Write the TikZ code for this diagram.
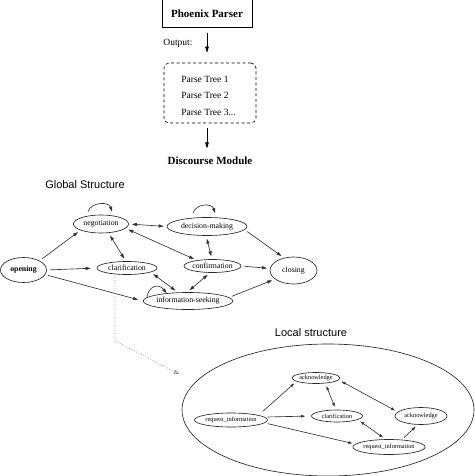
\documentclass[tikz,border=0pt]{standalone}
\usepackage{fontspec}
\setmainfont{Liberation Serif}
\newfontfamily\arialfont{Liberation Sans}
\usetikzlibrary{arrows.meta,shapes.geometric}
\begin{document}
\begin{tikzpicture}[x=1pt,y=-1pt,
  line width=0.65pt,
  gn/.style={ellipse, draw=black!85, inner sep=0pt, font=\fontsize{7.8}{9}\selectfont},
  ln/.style={ellipse, draw=black!85, inner sep=0pt, font=\fontsize{6.3}{7}\selectfont},
  ga/.style={draw=black!80, -{Triangle[length=5pt,width=3.2pt]}, shorten >=3pt, shorten <=3pt},
  gb/.style={draw=black!80, {Triangle[length=5pt,width=3.2pt]}-{Triangle[length=5pt,width=3.2pt]}, shorten >=3pt, shorten <=3pt},
  la/.style={draw=black!80, -{Triangle[length=4pt,width=2.6pt]}, shorten >=3pt, shorten <=3pt},
  lb/.style={draw=black!80, {Triangle[length=4pt,width=2.6pt]}-{Triangle[length=4pt,width=2.6pt]}, shorten >=3pt, shorten <=3pt},
  ta/.style={-{Triangle[length=6pt,width=3.6pt]}},
  txt/.style={font=\fontsize{9.5}{11}\selectfont},
  ttl/.style={font=\arialfont\fontsize{11}{13}\selectfont}
]
\useasboundingbox (0,0) rectangle (474,476);

% top pipeline
\node[draw, minimum width=90pt, minimum height=34pt, anchor=south, inner sep=0pt,
  label={[font=\bfseries\fontsize{11}{13}\selectfont, yshift=-3.5pt]center:Phoenix Parser}] (parser) at (207,27.5) {};
\node[txt] (outlbl) at (178,43) {Output:};
\node[draw, dashed, dash pattern=on 3pt off 2.5pt, rounded corners=5pt, minimum width=92pt, minimum height=60pt,
  inner sep=0pt,
  label={[align=left, font=\fontsize{9.5}{16.5}\selectfont, yshift=-2.5pt, xshift=-1.5pt]center:Parse Tree 1\\Parse Tree 2\\Parse Tree 3...}] (trees) at (210,93) {};
\node[font=\bfseries\fontsize{11}{13}\selectfont] (dm) at (210,161) {Discourse Module};
\draw[ta, shorten <=5.5pt, shorten >=10pt] (parser.south) -- (parser.south |- trees.north);
\draw[ta, shorten <=5pt, shorten >=5pt] (parser.south |- trees.south) -- (parser.south |- dm.north);

% global structure
\node[ttl] (gtitle) at (85,185) {Global Structure};
\node[gn, minimum width=46pt, minimum height=25pt, font=\bfseries\fontsize{7.8}{9}\selectfont] (opening) at (23.5,270) {opening};
\node[gn, minimum width=55pt, minimum height=18pt] (negotiation) at (101,224) {negotiation};
\node[gn, minimum width=80pt, minimum height=18pt] (decision) at (207,226.5) {decision-making};
\node[gn, minimum width=60pt, minimum height=13pt] (clarification) at (127,268) {clarification};
\node[gn, minimum width=55pt, minimum height=13pt] (confirmation) at (212.5,266) {confirmation};
\node[gn, minimum width=47pt, minimum height=27pt] (closing) at (293.5,270.5) {closing};
\node[gn, minimum width=87pt, minimum height=17pt] (info) at (188,301) {information-seeking};

\draw[ga] (opening.30) -- (negotiation.197);
\draw[ga, shorten >=6pt] (opening.east) -- (clarification.west);
\draw[ga, shorten >=5pt] (opening.-12) -- (info.180);
\draw[gb] (negotiation.east) -- (decision.west);
\draw[gb] (negotiation.-50) -- (clarification.100);
\draw[gb] (negotiation.-10) -- (confirmation.160);
\draw[gb] (decision.-95) -- (confirmation.95);
\draw[ga] (decision.-5) -- (closing.127);
\draw[ga] (confirmation.east) -- (closing.175);
\draw[gb] (clarification.-10) -- (info.140);
\draw[gb] (confirmation.-110) -- (info.95);
\draw[ga] (info.5) -- (closing.205);
% self loops
\draw[ga, shorten <=0pt, shorten >=0pt] ([shift={(-13,-3)}]negotiation.north) .. controls +(3,-10) and +(-3,-10) .. ([shift={(11,-3)}]negotiation.north);
\draw[ga, shorten <=0pt, shorten >=0pt] ([shift={(-14,-4)}]decision.north) .. controls +(3,-10) and +(-3,-10) .. ([shift={(8,-4)}]decision.north);
\draw[ga, shorten <=0pt, shorten >=0pt] (info.175) .. controls +(2,-12) and +(-8,-10) .. (info.160);

% local structure
\node[ttl] (ltitle) at (311,333) {Local structure};
\node[ellipse, draw=black!85, minimum width=292pt, minimum height=132pt, inner sep=0pt] (localbox) at (328,410) {};
\node[ln, minimum width=48pt, minimum height=11pt] (ackT) at (316,378) {acknowledge};
\node[ln, minimum width=51pt, minimum height=12pt] (clarL) at (337,416) {clarification};
\node[ln, minimum width=52pt, minimum height=17pt] (ackR) at (421,416) {acknowledge};
\node[ln, minimum width=73pt, minimum height=14pt] (reqL) at (231,420) {request\_information};
\node[ln, minimum width=72pt, minimum height=15pt] (reqB) at (389,447) {request\_information};

\draw[la, shorten <=6pt] (reqL.10) -- (ackT.190);
\draw[la, shorten >=6pt] (reqL.5) -- (clarL.west);
\draw[la] (reqL.-5) -- (reqB.175);
\draw[lb] (ackT.-30) -- (clarL.100);
\draw[lb] (ackT.-5) -- (ackR.170);
\draw[lb] (clarL.-10) -- (reqB.115);
\draw[la] (reqB.30) -- (ackR.-110);

% link from global clarification to local structure
\coordinate (tip) at (179,374);
\draw[dotted, black!50, -{Triangle[open,length=5pt,width=4pt]}] ([xshift=-12pt]clarification.south) -- ++(0,66) -- (tip);
\end{tikzpicture}
\end{document}
